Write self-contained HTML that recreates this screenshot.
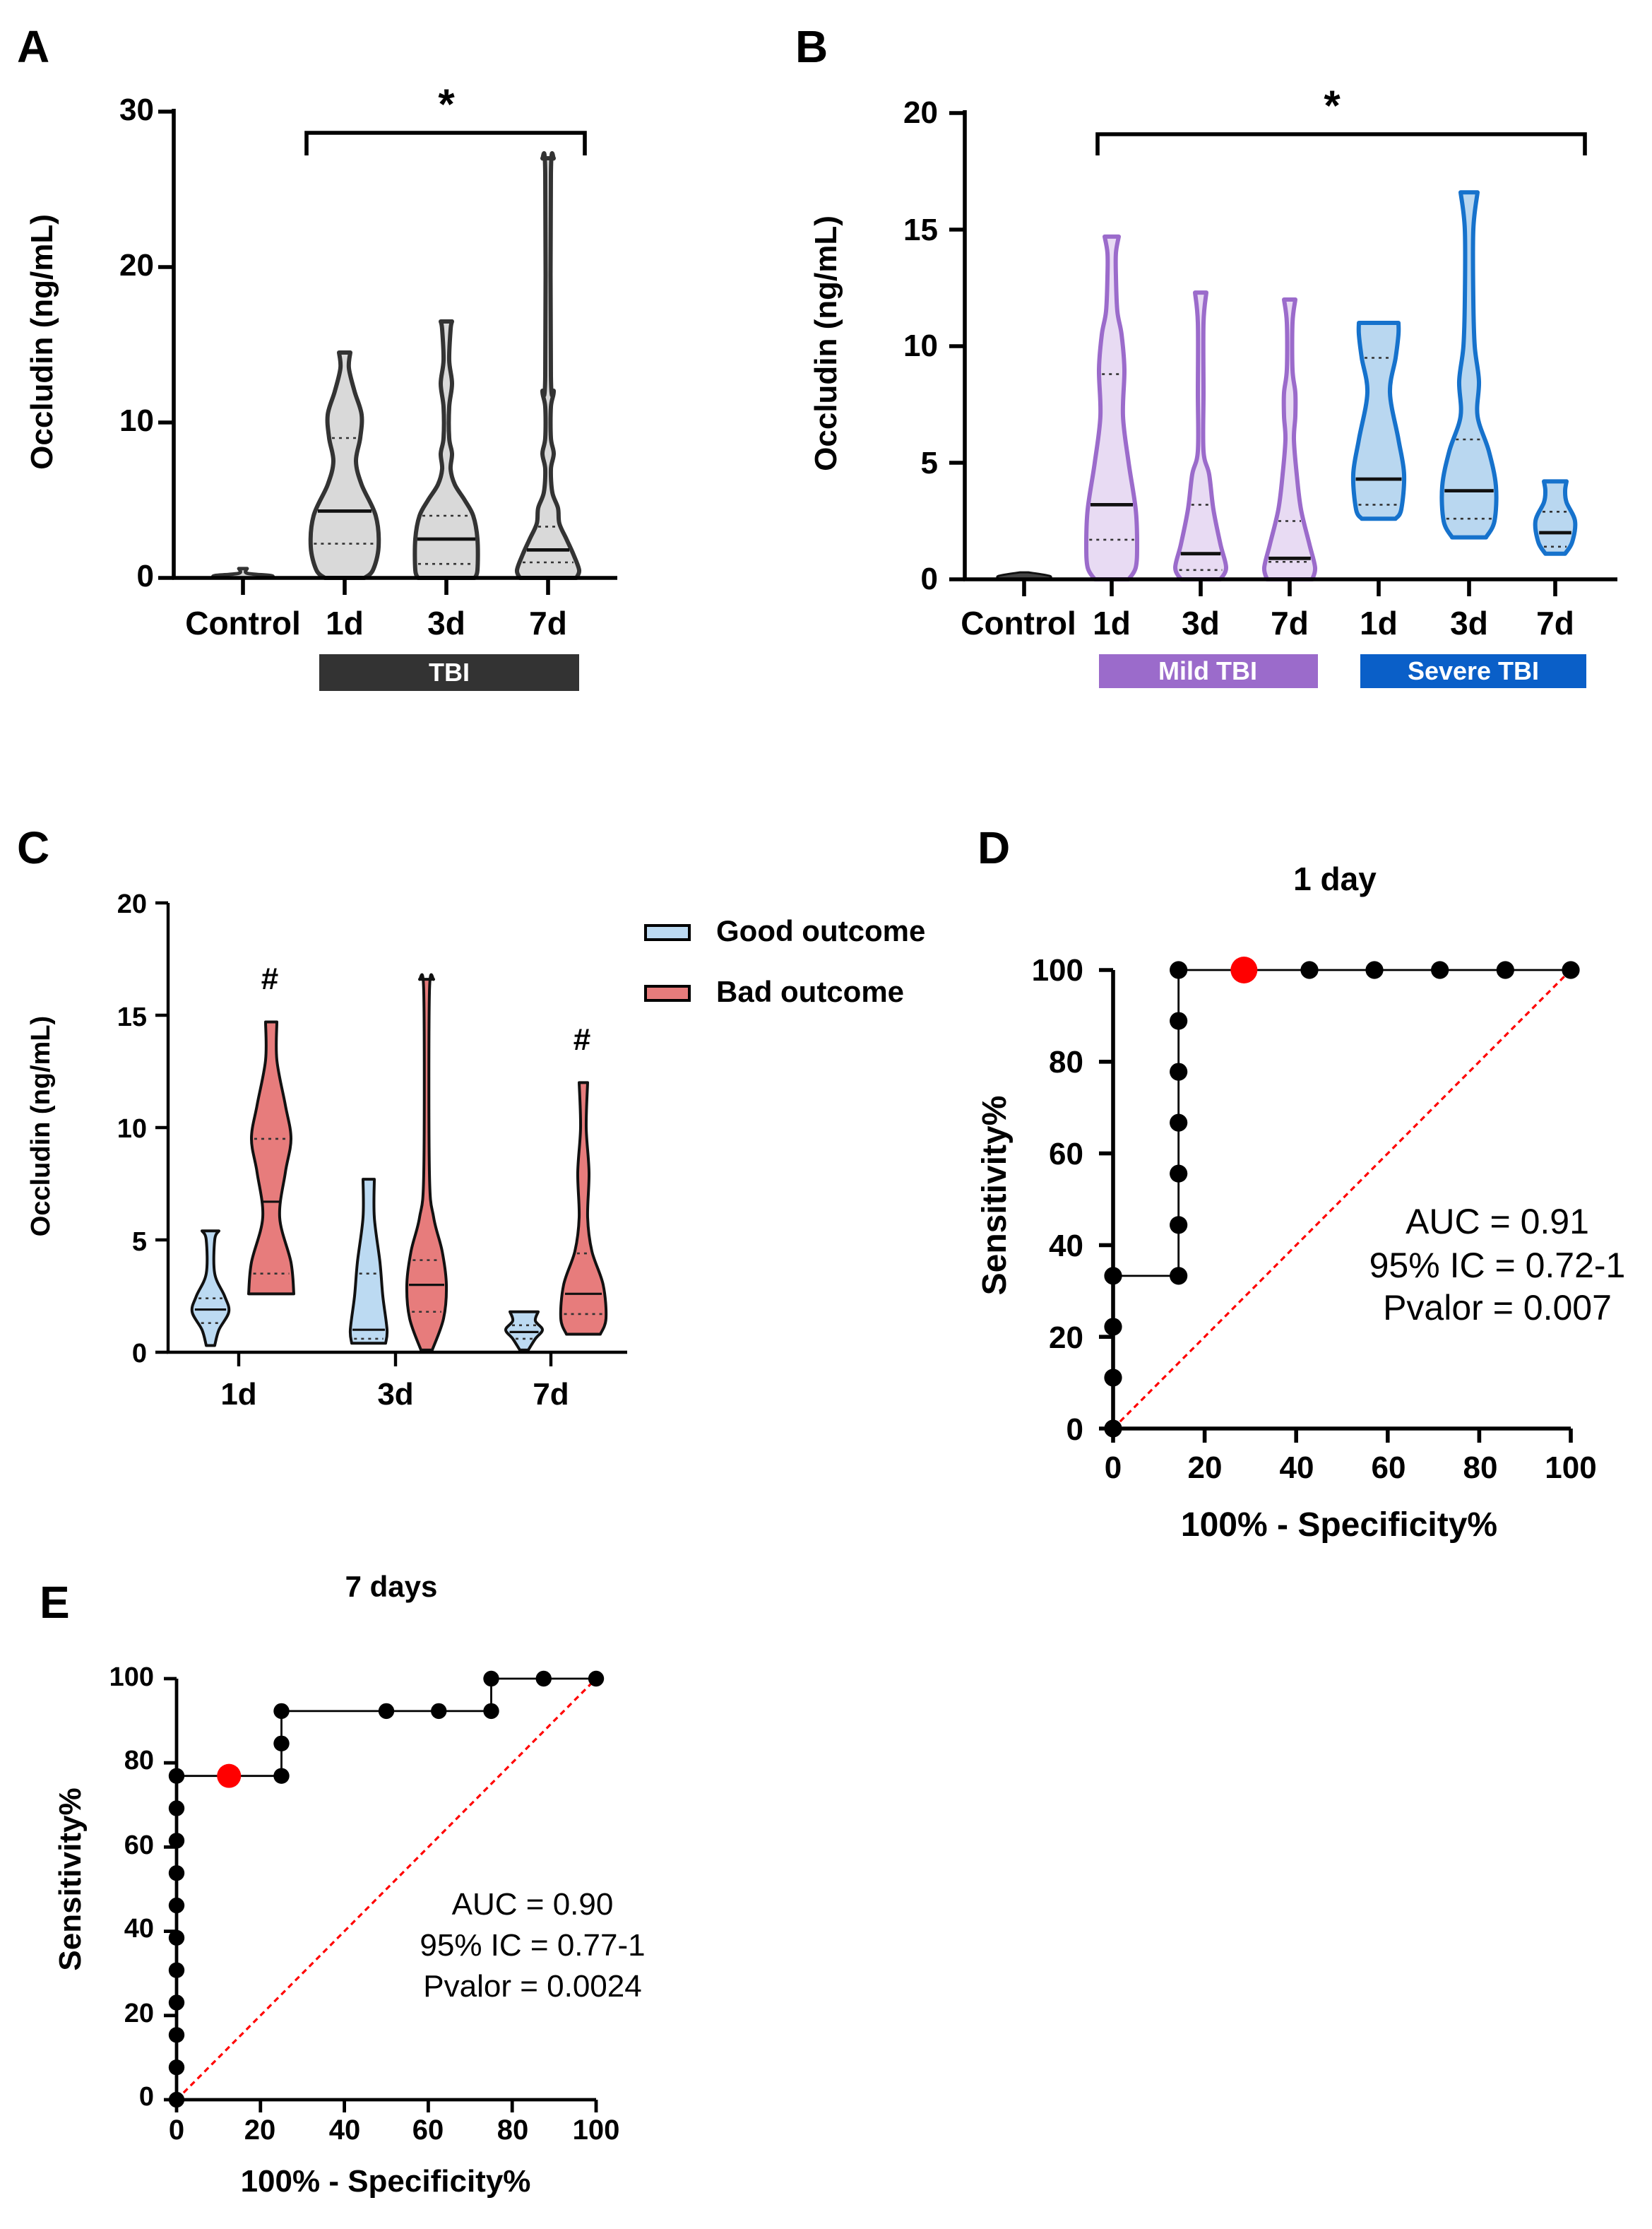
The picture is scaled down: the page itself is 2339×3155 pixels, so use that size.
<!DOCTYPE html>
<html><head><meta charset="utf-8"><style>
html,body{margin:0;padding:0;background:#fff}
svg{display:block}
text{font-family:"Liberation Sans",Arial,sans-serif}
.b{font-weight:bold}
</style></head><body>
<svg id="s" xmlns="http://www.w3.org/2000/svg" width="2339" height="3155" viewBox="0 0 1169.5 1577.5">
<rect width="1169.5" height="1577.5" fill="#fff"/>
<g id="shapes"></g>
<g fill="#000">
<text x="12" y="44" font-size="32" class="b">A</text>
<text x="563" y="44" font-size="32" class="b">B</text>
<text x="12" y="611" font-size="32" class="b">C</text>
<text x="692" y="611" font-size="32" class="b">D</text>
<text x="28" y="1145" font-size="32" class="b">E</text>

<g font-size="22" class="b" text-anchor="end">
<text x="109" y="85">30</text><text x="109" y="195">20</text><text x="109" y="305">10</text><text x="109" y="415">0</text>
</g>
<g font-size="23" class="b" text-anchor="middle">
<text x="172" y="449">Control</text><text x="244" y="449">1d</text><text x="316" y="449">3d</text><text x="388" y="449">7d</text>
<text x="316" y="84" font-size="30">*</text>
</g>
<text transform="translate(37,242) rotate(-90)" font-size="22" class="b" text-anchor="middle">Occludin (ng/mL)</text>
<rect x="226" y="463" width="184" height="26" fill="#333"/>
<text x="318" y="482" font-size="18" class="b" fill="#fff" text-anchor="middle">TBI</text>

<g font-size="22" class="b" text-anchor="end">
<text x="664" y="87">20</text><text x="664" y="170">15</text><text x="664" y="252">10</text><text x="664" y="335">5</text><text x="664" y="417">0</text>
</g>
<g font-size="23" class="b" text-anchor="middle">
<text x="721" y="449">Control</text><text x="787" y="449">1d</text><text x="850" y="449">3d</text><text x="913" y="449">7d</text>
<text x="976" y="449">1d</text><text x="1040" y="449">3d</text><text x="1101" y="449">7d</text>
<text x="943" y="85" font-size="30">*</text>
</g>
<text transform="translate(592,243) rotate(-90)" font-size="22" class="b" text-anchor="middle">Occludin (ng/mL)</text>
<rect x="778" y="463" width="155" height="24" fill="#9b6bcb"/>
<text x="855" y="481" font-size="18" class="b" fill="#fff" text-anchor="middle">Mild TBI</text>
<rect x="963" y="463" width="160" height="24" fill="#0a5fc8"/>
<text x="1043" y="481" font-size="18" class="b" fill="#fff" text-anchor="middle">Severe TBI</text>

<g font-size="19" class="b" text-anchor="end">
<text x="104" y="646">20</text><text x="104" y="726">15</text><text x="104" y="805">10</text><text x="104" y="885">5</text><text x="104" y="964">0</text>
</g>
<g font-size="22" class="b" text-anchor="middle">
<text x="169" y="994">1d</text><text x="280" y="994">3d</text><text x="390" y="994">7d</text>
<text x="191" y="700">#</text><text x="412" y="743">#</text>
</g>
<text transform="translate(35,797) rotate(-90)" font-size="19" class="b" text-anchor="middle">Occludin (ng/mL)</text>
<rect x="457" y="655" width="31" height="10" fill="#bcdaf2" stroke="#000" stroke-width="2"/>
<rect x="457" y="698" width="31" height="10" fill="#e77c7c" stroke="#000" stroke-width="2"/>
<text x="507" y="666" font-size="21" class="b">Good outcome</text>
<text x="507" y="709" font-size="21" class="b">Bad outcome</text>

<text x="945" y="630" font-size="23" class="b" text-anchor="middle">1 day</text>
<g font-size="22" class="b" text-anchor="end">
<text x="767" y="694">100</text><text x="767" y="759">80</text><text x="767" y="824">60</text><text x="767" y="889">40</text><text x="767" y="954">20</text><text x="767" y="1019">0</text>
</g>
<g font-size="22" class="b" text-anchor="middle">
<text x="788" y="1046">0</text><text x="853" y="1046">20</text><text x="918" y="1046">40</text><text x="983" y="1046">60</text><text x="1048" y="1046">80</text><text x="1112" y="1046">100</text>
<text x="948" y="1087" font-size="24">100% - Specificity%</text>
</g>
<text transform="translate(712,846) rotate(-90)" font-size="24" class="b" text-anchor="middle">Sensitivity%</text>
<g font-size="25" text-anchor="middle">
<text x="1060" y="873">AUC = 0.91</text><text x="1060" y="904">95% IC = 0.72-1</text><text x="1060" y="934">Pvalor = 0.007</text>
</g>

<text x="277" y="1130" font-size="21" class="b" text-anchor="middle">7 days</text>
<g font-size="19" class="b" text-anchor="end">
<text x="109" y="1193">100</text><text x="109" y="1252">80</text><text x="109" y="1312">60</text><text x="109" y="1371">40</text><text x="109" y="1431">20</text><text x="109" y="1490">0</text>
</g>
<g font-size="20" class="b" text-anchor="middle">
<text x="125" y="1514">0</text><text x="184" y="1514">20</text><text x="244" y="1514">40</text><text x="303" y="1514">60</text><text x="363" y="1514">80</text><text x="422" y="1514">100</text>
<text x="273" y="1551" font-size="22">100% - Specificity%</text>
</g>
<text transform="translate(57,1330) rotate(-90)" font-size="22" class="b" text-anchor="middle">Sensitivity%</text>
<g font-size="22" text-anchor="middle">
<text x="377" y="1355">AUC = 0.90</text><text x="377" y="1384">95% IC = 0.77-1</text><text x="377" y="1413">Pvalor = 0.0024</text>
</g>
</g>
</svg>
<script>
(function(){
var NS="http://www.w3.org/2000/svg",G=document.getElementById("shapes");
function el(t,a){var e=document.createElementNS(NS,t);for(var k in a)e.setAttribute(k,a[k]);G.appendChild(e);return e;}
function line(x1,y1,x2,y2,w,c,d){var o={x1:x1,y1:y1,x2:x2,y2:y2,stroke:c||"#000","stroke-width":w||2.4};if(d)o["stroke-dasharray"]=d;el("line",o);}
function smooth(pts){var d="M"+pts[0][0]+","+pts[0][1];for(var i=0;i<pts.length-1;i++){var p0=pts[i-1]||pts[i],p1=pts[i],p2=pts[i+1],p3=pts[i+2]||p2;
d+=" C"+(p1[0]+(p2[0]-p0[0])/6)+","+(p1[1]+(p2[1]-p0[1])/6)+" "+(p2[0]-(p3[0]-p1[0])/6)+","+(p2[1]-(p3[1]-p1[1])/6)+" "+p2[0]+","+p2[1];}return d;}
function violin(cx,y0,sc,prof,fill,stroke,sw,med,q1,q3){
 var r=prof.map(function(p){return [cx+p[1],y0-sc*p[0]];});
 var l=prof.slice().reverse().map(function(p){return [cx-p[1],y0-sc*p[0]];});
 var d=smooth(r)+" L"+l[0][0]+","+l[0][1]+" "+smooth(l).slice(1).replace(/^[^C]*/,"")+" Z";
 el("path",{d:d,fill:fill,stroke:stroke,"stroke-width":sw,"stroke-linejoin":"round"});
 function hw(v){for(var i=0;i<prof.length-1;i++){if(v>=prof[i][0]&&v<=prof[i+1][0]){var t=(v-prof[i][0])/(prof[i+1][0]-prof[i][0]||1);return prof[i][1]+t*(prof[i+1][1]-prof[i][1]);}}return 2;}
 if(med!=null){var w=hw(med)-1.5;line(cx-w,y0-sc*med,cx+w,y0-sc*med,sw*0.8,"#111");}
 [q1,q3].forEach(function(q){if(q!=null){var w=hw(q)-2;line(cx-w,y0-sc*q,cx+w,y0-sc*q,1.3,"#333","2 3");}});
}
var yA=409,sA=11;
var gf="#d9d9d9",gs="#333";
violin(172,yA,sA,[[0,20],[0.15,20],[0.3,3],[0.6,3]],gf,gs,2.4,null);
violin(244,yA,sA,[[0,14],[0.5,20],[2,24],[4,22],[6,12],[7.5,8],[9,11],[10.5,12],[12,7],[13.5,3],[14.5,4]],gf,gs,3,4.3,2.2,9);
violin(316,yA,sA,[[0,20],[0.5,22],[2.5,22],[4,19],[5,13],[6,6],[7,3],[8,4],[9,2],[11,2],[12.5,4],[14,2],[16,3],[16.5,4]],gf,gs,3,2.5,0.9,4);
violin(388,yA,sA,[[0,20],[0.5,22],[1.5,18],[2.5,13],[3.5,8],[4.5,7],[5.5,3],[7,2],[8,4],[9,2],[11,2],[12,4],[13,2],[26,2],[27,4]],gf,gs,3,1.8,1,3.3);
line(123,77,123,yA+1,2.8);line(122,yA,437,yA,2.8);
[0,10,20,30].forEach(function(v){line(112,yA-sA*v,123,yA-sA*v,2.8);});
[172,244,316,388].forEach(function(x){line(x,yA,x,421,2.8);});
el("path",{d:"M217,110 V94 H414 V110",fill:"none",stroke:"#000","stroke-width":2.8});
var yB=410,sB=16.5,pf="#e8dbf3",ps="#9b6bcb",bf="#b9d7f0",bs="#1672cc";
violin(725,yB,sB,[[0,18],[0.15,18],[0.3,3]],"#444","#111",1.5,null);
violin(787,yB,sB,[[0,12],[0.5,17],[1.5,18],[3,17],[5,12],[7,8],[9,9],[10.5,7],[11.5,4],[13,3],[14,3],[14.7,5]],pf,ps,3,3.2,1.7,8.8);
violin(850,yB,sB,[[0,14],[0.5,18],[1.5,14],[3,9],[4.5,6],[5.5,2],[8,2],[11,2],[12.3,4]],pf,ps,3,1.1,0.4,3.2);
violin(913,yB,sB,[[0,16],[0.5,18],[1.5,14],[3,8],[4.5,5],[6,3],[7,4],[8,4],[9,2],[11,2],[12,4]],pf,ps,3,0.9,0.75,2.5);
violin(976,yB,sB,[[2.6,12],[3,16],[4.5,18],[6,14],[8,8],[9.5,12],[10.5,14],[11,14]],bf,bs,3,4.3,3.2,9.5);
violin(1040,yB,sB,[[1.8,12],[2.5,18],[4,19],[5.5,14],[7,6],[8.5,7],[10,4],[12,3],[15,3],[16.6,6]],bf,bs,3,3.8,2.6,6);
violin(1101,yB,sB,[[1.1,7],[1.6,12],[2.5,14],[3.3,8],[3.8,7],[4.2,8]],bf,bs,3,2.0,1.4,2.9);
line(683,78,683,yB+1,2.8);line(682,yB,1145,yB,2.8);
[0,5,10,15,20].forEach(function(v){line(672,yB-sB*v,683,yB-sB*v,2.8);});
[725,787,850,913,976,1040,1101].forEach(function(x){line(x,yB,x,422,2.8);});
el("path",{d:"M777,110 V95 H1122 V110",fill:"none",stroke:"#000","stroke-width":2.8});
var yC=957,sC=15.9,gF="#bcdaf2",rF="#e77c7c",cs="#111";
violin(149,yC,sC,[[0.3,3],[1,6],[1.8,13],[2.5,10],[3.5,3],[5,3],[5.4,6]],gF,cs,2,1.9,1.3,2.4);
violin(192,yC,sC,[[2.6,16],[4,14],[6,6],[8,10],[9.5,14],[11,10],[13,4],[14.7,4]],rF,cs,2,6.7,3.5,9.5);
violin(261,yC,sC,[[0.4,12],[1,13],[2.5,10],[4,8],[6,4],[7.7,4]],gF,cs,2,1.0,0.6,3.5);
violin(302,yC,sC,[[0.1,4],[1.5,12],[3,14],[4.5,11],[6,5],[8,2],[16,2],[16.6,5]],rF,cs,2,3.0,1.8,4.1);
violin(371,yC,sC,[[0.1,3],[0.6,8],[1,13],[1.4,8],[1.8,10]],gF,cs,2,0.9,0.6,1.2);
violin(413,yC,sC,[[0.8,12],[1.5,16],[3,14],[4.5,6],[6,3],[8,4],[10,2],[12,3]],rF,cs,2,2.6,1.7,4.4);
line(119,639,119,yC+1,2.2);line(118,yC,444,yC,2.2);
[0,5,10,15,20].forEach(function(v){line(110,yC-sC*v,119,yC-sC*v,2.2);});
[169,280,390].forEach(function(x){line(x,yC,x,967,2.2);});
function roc(x0,y0,sx,sy,pts,red,r,rr,tl,aw){
 line(x0,y0,x0+100*sx,y0-100*sy,1.6,"#f00","4 3");
 var d="M"+pts.map(function(p){return (x0+p[0]*sx)+","+(y0-p[1]*sy);}).join(" L");
 el("path",{d:d,fill:"none",stroke:"#000","stroke-width":1.4});
 line(x0,y0-100*sy,x0,y0+1,aw);line(x0-1,y0,x0+100*sx,y0,aw);
 for(var v=0;v<=100;v+=20){line(x0-tl,y0-v*sy,x0,y0-v*sy,aw);line(x0+v*sx,y0,x0+v*sx,y0+tl,aw);}
 pts.forEach(function(p){el("circle",{cx:x0+p[0]*sx,cy:y0-p[1]*sy,r:r,fill:"#000"});});
 el("circle",{cx:x0+red[0]*sx,cy:y0-red[1]*sy,r:rr,fill:"#f00"});
}
var d1=[[0,0],[0,11.1],[0,22.2],[0,33.3],[14.3,33.3],[14.3,44.4],[14.3,55.6],[14.3,66.7],[14.3,77.8],[14.3,88.9],[14.3,100],[42.9,100],[57.1,100],[71.4,100],[85.7,100],[100,100]];
roc(788,1011,3.24,3.245,d1,[28.6,100],6.3,9.5,10,2.8);
var d7=[[0,0]];for(var i=1;i<=10;i++)d7.push([0,7.69*i]);
d7=d7.concat([[25,76.9],[25,84.6],[25,92.3],[50,92.3],[62.5,92.3],[75,92.3],[75,100],[87.5,100],[100,100]]);
roc(125,1486,2.97,2.98,d7,[12.5,76.9],5.6,8.5,9,2.4);
})();
</script>
</body></html>
